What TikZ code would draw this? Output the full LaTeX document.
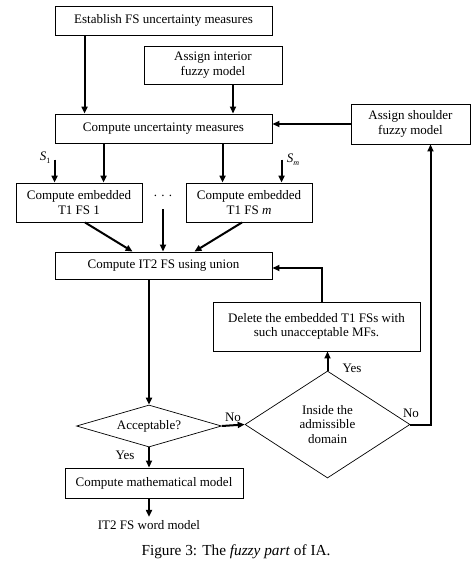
\documentclass[tikz,border=0pt]{standalone}
\usepackage{fontspec}
\setmainfont{Liberation Serif}
\usetikzlibrary{arrows.meta,shapes.geometric}
\begin{document}
\begin{tikzpicture}[x=1pt,y=-1pt,
  every node/.style={font=\fontsize{13}{14.5}\selectfont},
  box/.style={draw,line width=0.9pt,inner sep=0pt,align=center},
  dia/.style={draw,diamond,line width=0.7pt,inner sep=0pt,align=center},
  arr/.style={line width=2pt,-{Triangle[length=7pt,width=6pt]}},
  plain/.style={line width=2pt}]
\useasboundingbox (0,0) rectangle (474,575);
% boxes
\node[box,minimum width=217pt,minimum height=29pt] (est) at (163.5,20.5) {Establish FS uncertainty measures};
\node[box,minimum width=138pt,minimum height=38pt] (int) at (213,65) {Assign interior\\fuzzy model};
\node[box,minimum width=217pt,minimum height=29pt] (cum) at (163.5,128.5) {Compute uncertainty measures};
\node[box,minimum width=119pt,minimum height=40pt] (sh) at (410.5,124) {Assign shoulder\\fuzzy model};
\node[box,minimum width=126pt,minimum height=39pt] (e1) at (79,202.5) {Compute embedded\\T1 FS 1};
\node[box,minimum width=126pt,minimum height=39pt] (em) at (249,202.5) {Compute embedded\\T1 FS \textit{m}};
\node (dots) at (163,196) {. . .};
\node[box,minimum width=217pt,minimum height=27pt] (it2) at (163.5,265.5) {Compute IT2 FS using union};
\node[box,minimum width=207pt,minimum height=49pt] (del) at (316.5,326.5) {Delete the embedded T1 FSs with\\such unacceptable MFs.};
\node[dia,minimum width=145pt,minimum height=42pt,shape aspect=3.4] (acc) at (149,426) {Acceptable?};
\node[dia,minimum width=165pt,minimum height=107pt,shape aspect=1.5] (ins) at (327.5,424.5) {Inside the\\admissible\\domain};
\node[box,minimum width=178pt,minimum height=30pt] (math) at (154,483) {Compute mathematical model};
\node (word) at (149,525) {IT2 FS word model};
\node[font=\fontsize{15.3}{17}\selectfont] (cap) at (236,552) {Figure 3: The \textit{fuzzy part} of IA.};
% helper coordinates
\coordinate (estx) at ([xshift=30pt]est.south west);
\coordinate (intx) at ([xshift=20pt]int.south);
\coordinate (c1) at ([xshift=88pt]e1.north west);
\coordinate (cm) at ([xshift=37pt]em.north west);
\coordinate (s1top) at ([xshift=39pt,yshift=23pt]e1.north west);
\coordinate (smtop) at ([xshift=96pt,yshift=23pt]em.north west);
\coordinate (e1b) at ([xshift=6pt]e1.south);
\coordinate (emb) at ([xshift=-7pt]em.south);
\coordinate (it2l) at ([xshift=78pt]it2.north west);
\coordinate (it2r) at ([xshift=-78pt]it2.north east);
\coordinate (delx) at ([xshift=5.5pt]del.north);
\coordinate (shx) at ([xshift=20pt]sh.south);
% labels
\node[anchor=east,inner sep=1pt] (s1) at ([xshift=-3pt,yshift=2pt]s1top) {\textit{S}\raisebox{-3pt}{\fontsize{8}{8}\selectfont 1}};
\node[anchor=west,inner sep=1pt] (sm) at ([xshift=4pt,yshift=0pt]smtop) {\textit{S}\raisebox{-3pt}{\fontsize{8}{8}\selectfont\textit{m}}};
\node (no1) at (233,417) {No};
\node (no2) at (411,413) {No};
\node (yes1) at (352,368) {Yes};
\node (yes2) at (125,455) {Yes};
% connectors
\draw[arr] (estx) -- (estx |- cum.north);
\draw[arr] (intx) -- (intx |- cum.north);
\draw[arr] (sh.west) -- (sh.west -| cum.east);
\draw[arr] (c1 |- cum.south) -- (c1);
\draw[arr] (cm |- cum.south) -- (cm);
\draw[arr] (s1top) -- (s1top |- e1.north);
\draw[arr] (smtop) -- (smtop |- em.north);
\draw[arr] (e1b) -- (it2l);
\draw[arr] (emb) -- (it2r);
\draw[arr] ([yshift=-9pt]dots.south) -- (dots.south |- it2.north);
\draw[arr] (delx) |- ([yshift=-2.5pt]it2.east);
\draw[arr] (acc.north |- it2.south) -- (acc.north);
\draw[arr] (acc.east) -- (ins.west);
\draw[arr] (ins.north) -- (ins.north |- del.south);
\draw[arr] (ins.east) -| (shx);
\draw[arr] (acc.south) -- (acc.south |- math.north);
\draw[arr] (acc.south |- math.south) -- (word.north);
\end{tikzpicture}
\end{document}
